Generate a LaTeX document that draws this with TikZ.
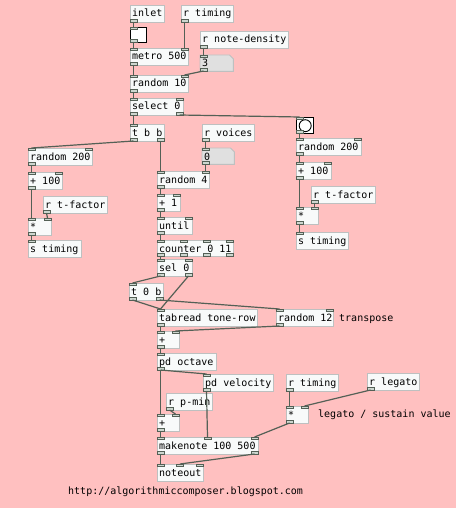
\documentclass[tikz,border=0pt]{standalone}
\usepackage{fontspec}
\setmonofont{DejaVu Sans Mono}
\definecolor{bgpink}{RGB}{255,192,192}
\definecolor{boxfill}{RGB}{248,250,250}
\definecolor{boxline}{RGB}{190,192,192}
\definecolor{numfill}{RGB}{224,224,224}
\definecolor{conncol}{RGB}{84,96,86}
\definecolor{portfill}{RGB}{205,215,208}
\tikzset{
  pdbox/.style={draw=boxline, fill=boxfill, line width=0.9pt, inner sep=0pt, rectangle},
  pdtext/.style={font=\ttfamily\fontsize{10pt}{12pt}\selectfont, inner sep=0pt, text=black},
  port/.style={draw=conncol, fill=portfill, line width=0.8pt},
  conn/.style={draw=conncol, line width=1.2pt},
  bangbox/.style={draw=black, fill=white, line width=1.4pt, inner sep=0pt, rectangle},
}
\newcommand\pdports[7]{%
  \ifnum#5>0
    \ifnum#5=1 \def\pdstep{0}\else\pgfmathsetmacro\pdstep{(#4-7)/(#5-1)}\fi
    \foreach \k in {1,...,#5}{%
      \pgfmathsetmacro\px{#2+(\k-1)*\pdstep}
      \draw[port] (\px pt,-#3 pt) rectangle ++(7pt,-2.8pt);
      \coordinate (#1-#6\k) at (\px pt+3.5pt,-#7 pt);
    }
  \fi}
\newcommand\pdobj[8]{%
  \node[pdbox, minimum width=#4pt, minimum height=#5pt, anchor=north west] (#1) at (#2pt,-#3pt) {};
  \node[pdtext, anchor=base west] (#1-t) at (#2pt+2pt,-#3pt-12pt) {#6};
  \pgfmathsetmacro\pdti{#3}%
  \pdports{#1}{#2}{\pdti}{#4}{#7}{i}{\pdti}
  \pgfmathsetmacro\pdbo{#3+#5-2.8}\pgfmathsetmacro\pdbb{#3+#5}%
  \pdports{#1}{#2}{\pdbo}{#4}{#8}{o}{\pdbb}
}
\newcommand\pdnum[5]{% name,l,t,w,text
  \node[inner sep=0pt, minimum width=#4pt, minimum height=16pt, anchor=north west] (#1) at (#2pt,-#3pt) {};
  \fill[numfill, draw=boxline, line width=0.9pt] (#1.north west) -- ([xshift=-4pt]#1.north east) -- ([yshift=-4pt]#1.north east) -- (#1.south east) -- (#1.south west) -- cycle;
  \node[pdtext, anchor=base west] (#1-t) at (#2pt+2pt,-#3pt-12pt) {#5};
  \pgfmathsetmacro\pdti{#3}%
  \pdports{#1}{#2}{\pdti}{#4}{1}{i}{\pdti}
  \pgfmathsetmacro\pdbo{#3+16-2.8}\pgfmathsetmacro\pdbb{#3+16}%
  \pdports{#1}{#2}{\pdbo}{#4}{1}{o}{\pdbb}
}
\begin{document}
\begin{tikzpicture}[x=1pt,y=1pt]
\fill[bgpink] (0,0) rectangle (456,-508);
\useasboundingbox (0,0) rectangle (456,-508);

% top section
\pdobj{inlet}{130}{5}{34}{17}{inlet}{0}{1}
\node[bangbox, minimum width=16pt, minimum height=15pt, anchor=north west] (bL) at (130,-27) {};
\pdports{bL}{130}{27}{16}{1}{i}{27}
\pdports{bL}{130}{39.2}{16}{1}{o}{42}
\pdobj{rtim}{181}{5}{52}{17}{r timing}{0}{1}
\pdobj{rnd}{200}{31}{88}{17}{r note-density}{0}{1}
\pdobj{metro}{130}{48}{58}{17}{metro 500}{2}{1}
\pdnum{nthree}{200}{55}{33}{3}
\pdobj{rten}{130}{75}{58}{17}{random 10}{2}{1}
\pdobj{sel}{130}{98}{53}{17}{select 0}{2}{2}
\pdobj{tbb}{130}{124}{34}{17}{t b b}{1}{2}

% left branch
\pdobj{rtwoL}{28}{148}{64}{17}{random 200}{2}{1}
\pdobj{phL}{28}{172}{34}{17}{+ 100}{2}{1}
\pdobj{rtfL}{43}{196}{64}{17}{r t-factor}{0}{1}
\pdobj{mulL}{28}{218}{23}{17}{*}{2}{1}
\pdobj{stL}{28}{240}{53}{17}{s timing}{1}{0}

% middle
\pdobj{rvo}{202}{124}{52}{17}{r voices}{0}{1}
\pdnum{nzero}{202}{148}{32}{0}
\pdobj{rfour}{157}{171}{52}{17}{random 4}{2}{1}
\pdobj{pone}{157}{194}{23}{17}{+ 1}{2}{1}
\pdobj{until}{157}{217}{35}{17}{until}{2}{1}
\pdobj{cnt}{157}{240}{76}{16}{counter 0 11}{4}{4}
\pdobj{selz}{157}{259}{35}{17}{sel 0}{2}{2}
\pdobj{tzb}{129}{283}{34}{17}{t 0 b}{1}{2}
\pdobj{tab}{157}{309}{100}{17}{tabread tone-row}{1}{1}
\pdobj{rtw}{276}{309}{57}{17}{random 12}{2}{1}
\node[pdtext, anchor=base west] (ctr) at (339,-321) {transpose};
\pdobj{plus}{157}{331}{22}{17}{+}{2}{1}
\pdobj{oct}{157}{353}{59}{17}{pd octave}{1}{1}
\pdobj{vel}{203}{374}{70}{17}{pd velocity}{1}{1}
\pdobj{rtimb}{286}{374}{52}{17}{r timing}{0}{1}
\pdobj{rleg}{367}{373}{52}{17}{r legato}{0}{1}
\pdobj{rpm}{166}{393}{46}{17}{r p-min}{0}{1}
\pdobj{plusb}{157}{414}{22}{17}{+}{2}{1}
\pdobj{mulb}{286}{406}{22}{17}{*}{2}{1}
\node[pdtext, anchor=base west] (cleg) at (318,-417) {legato / sustain value};
\pdobj{mk}{157}{437}{101}{17}{makenote 100 500}{3}{2}
\pdobj{nout}{157}{464}{46}{17}{noteout}{3}{0}
\node[pdtext, anchor=base west] (url) at (68,-494) {http://algorithmiccomposer.blogspot.com};

% right branch
\node[bangbox, minimum width=17pt, minimum height=16pt, anchor=north west] (bR) at (296,-117) {};
\node[circle, draw=black, fill=white, line width=0.9pt, minimum size=12pt, inner sep=0pt] (bRc) at (bR.center) {};
\pdports{bR}{296}{117}{17}{1}{i}{117}
\pdports{bR}{296}{130.2}{17}{1}{o}{133}
\pdobj{rtwoR}{296}{138}{65}{17}{random 200}{2}{1}
\pdobj{phR}{296}{162}{35}{17}{+ 100}{2}{1}
\pdobj{rtfR}{311}{186}{64}{17}{r t-factor}{0}{1}
\pdobj{mulR}{296}{207}{22}{17}{*}{2}{1}
\pdobj{stR}{296}{232}{52}{17}{s timing}{1}{0}

% connections
\draw[conn] (inlet-o1) -- (bL-i1);
\draw[conn] (bL-o1) -- (metro-i1);
\draw[conn] (rtim-o1) -- (metro-i2);
\draw[conn] (rnd-o1) -- (nthree-i1);
\draw[conn] (nthree-o1) -- (rten-i2);
\draw[conn] (metro-o1) -- (rten-i1);
\draw[conn] (rten-o1) -- (sel-i1);
\draw[conn] (sel-o1) -- (tbb-i1);
\draw[conn] (sel-o2) -- (bR-i1);
\draw[conn] (tbb-o1) -- (rtwoL-i1);
\draw[conn] (tbb-o2) -- (rfour-i1);
\draw[conn] (rtwoL-o1) -- (phL-i1);
\draw[conn] (phL-o1) -- (mulL-i1);
\draw[conn] (rtfL-o1) -- (mulL-i2);
\draw[conn] (mulL-o1) -- (stL-i1);
\draw[conn] (rvo-o1) -- (nzero-i1);
\draw[conn] (nzero-o1) -- (rfour-i2);
\draw[conn] (rfour-o1) -- (pone-i1);
\draw[conn] (pone-o1) -- (until-i1);
\draw[conn] (until-o1) -- (cnt-i1);
\draw[conn] (cnt-o1) -- (selz-i1);
\draw[conn] (selz-o1) -- (tzb-i1);
\draw[conn] (selz-o2) -- (tab-i1);
\draw[conn] (tzb-o1) -- (tab-i1);
\draw[conn] (tzb-o2) -- (rtw-i1);
\draw[conn] (tab-o1) -- (plus-i1);
\draw[conn] (rtw-o1) -- (plus-i2);
\draw[conn] (plus-o1) -- (oct-i1);
\draw[conn] (oct-o1) -- (plusb-i1);
\draw[conn] (oct-o1) -- (vel-i1);
\draw[conn] (vel-o1) -- (mk-i2);
\draw[conn] (rpm-o1) -- (plusb-i2);
\draw[conn] (plusb-o1) -- (mk-i1);
\draw[conn] (rtimb-o1) -- (mulb-i1);
\draw[conn] (rleg-o1) -- (mulb-i2);
\draw[conn] (mulb-o1) -- (mk-i3);
\draw[conn] (mk-o1) -- (nout-i1);
\draw[conn] (mk-o2) -- (nout-i2);
\draw[conn] (bR-o1) -- (rtwoR-i1);
\draw[conn] (rtwoR-o1) -- (phR-i1);
\draw[conn] (phR-o1) -- (mulR-i1);
\draw[conn] (rtfR-o1) -- (mulR-i2);
\draw[conn] (mulR-o1) -- (stR-i1);
\end{tikzpicture}
\end{document}
